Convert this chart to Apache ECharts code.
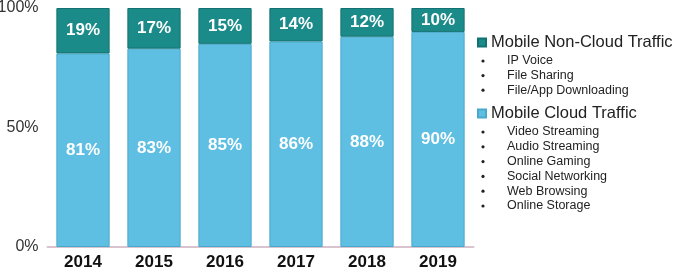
<!DOCTYPE html>
<html><head><meta charset="utf-8">
<script src="https://cdn.jsdelivr.net/npm/echarts@6/dist/echarts.min.js"></script>
<style>html,body{margin:0;padding:0;background:#fff}#c{width:680px;height:273px}</style>
</head><body><div id="c"></div>
<script>
const years = ['2014','2015','2016','2017','2018','2019'];
const cloud = [81,83,85,86,88,90];
const nonCloud = [19,17,15,14,12,10];
const yTicks = [0,50,100];
const nonCloudItems = ['IP Voice','File Sharing','File/App Downloading'];
const cloudItems = ['Video Streaming','Audio Streaming','Online Gaming','Social Networking','Web Browsing','Online Storage'];

const font = 'Liberation Sans, Arial, sans-serif';
const chart = echarts.init(document.getElementById('c'));
const graphics = [];
function bullets(items, y0, step){
  items.forEach((t,i)=>{
    graphics.push({type:'circle', shape:{cx:483, cy:y0+i*step, r:1.6}, style:{fill:'#222'}});
    graphics.push({type:'text', x:507, y:y0+i*step, style:{text:t, font:'12.5px '+font, fill:'#222', textVerticalAlign:'middle', verticalAlign:'middle'}});
  });
}
bullets(nonCloudItems, 61, 14.6);
bullets(cloudItems, 132, 14.8);

chart.setOption({
  animation:false,
  grid:{left:47.5, top:8, width:426, height:239, containLabel:false, outerBoundsMode:'none'},
  legend:[
    {data:['Mobile Non-Cloud Traffic'], left:472, top:29, icon:'rect', itemWidth:8, itemHeight:8, itemGap:6,
     textStyle:{fontSize:16.5, color:'#222', fontFamily:font}},
    {data:['Mobile Cloud Traffic'], left:472, top:100, icon:'rect', itemWidth:8, itemHeight:8,
     textStyle:{fontSize:16.5, color:'#222', fontFamily:font}}
  ],
  xAxis:{type:'category', data:years, axisTick:{show:false},
    axisLine:{lineStyle:{color:'#d9c3cf', width:2}},
    axisLabel:{fontSize:17, fontWeight:'bold', color:'#111', fontFamily:font, margin:7}},
  yAxis:{type:'value', min:0, max:100, interval:50, splitLine:{show:false},
    axisLabel:{formatter: v => yTicks.includes(v) ? v+'%' : '', fontSize:16, color:'#333', fontFamily:font, margin:9}},
  series:[
    {name:'Mobile Cloud Traffic', type:'bar', stack:'a', data:cloud, barCategoryGap:'25%',
     itemStyle:{color:'#5ebfe2', borderColor:'#48a9cc', borderWidth:1},
     label:{show:true, position:'inside', formatter:'{c}%', color:'#fff', fontSize:17, fontWeight:'bold', fontFamily:font}},
    {name:'Mobile Non-Cloud Traffic', type:'bar', stack:'a', data:nonCloud,
     itemStyle:{color:'#1b8b8a', borderColor:'#137271', borderWidth:1},
     label:{show:true, position:'inside', formatter:'{c}%', color:'#fff', fontSize:17, fontWeight:'bold', fontFamily:font}}
  ],
  graphic: graphics
});
</script></body></html>
